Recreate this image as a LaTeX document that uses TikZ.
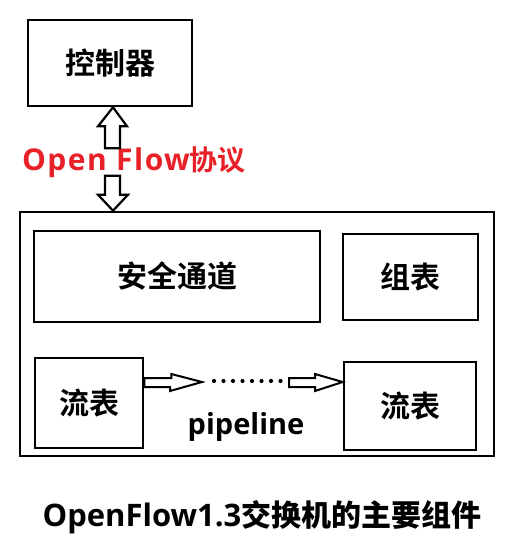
\documentclass[tikz,border=0pt]{standalone}
\usepackage{fontspec}
\setmainfont{Open Sans}[BoldFont={Open Sans Bold}]
\newfontfamily\cjk{Noto Sans CJK SC Bold}
\newfontfamily\widelat{Open Sans Bold}[LetterSpace=5]
\usetikzlibrary{calc}
\definecolor{ofred}{RGB}{232,32,40}
\tikzset{
  box/.style={draw, line width=2.6pt, inner sep=0pt},
  lbl/.style={font=\cjk\fontsize{30}{30}\selectfont},
  harrow/.style={draw, line width=2.2pt, fill=white, line join=miter},
  dot/.style={fill, circle, inner sep=0pt, minimum size=4.2pt},
}
\begin{document}
\begin{tikzpicture}[x=1pt,y=-1pt]
\useasboundingbox (0,0) rectangle (518,541);
% boxes
\node[box, minimum width=164pt, minimum height=86pt] (ctrl) at (110,63) {};
\node[lbl] at (ctrl.center) {控制器};
\node[box, minimum width=474pt, minimum height=244pt] (sw) at (257,334) {};
\node[box, minimum width=286pt, minimum height=91pt] (sec) at (177,276.5) {};
\node[lbl] at (sec.center) {安全通道};
\node[box, minimum width=135pt, minimum height=86pt] (grp) at (410.5,277) {};
\node[lbl] at (grp.center) {组表};
\node[box, minimum width=108pt, minimum height=90pt] (ft1) at (89,403) {};
\node[lbl] at (ft1.center) {流表};
\node[box, minimum width=132pt, minimum height=88pt] (ft2) at (410,406) {};
\node[lbl] at (ft2.center) {流表};
% protocol label
\node[text=ofred, inner sep=0pt] (proto) at (134,162) {\widelat\fontsize{30}{30}\selectfont Open Flow{\cjk\fontsize{28}{28}\selectfont 协议}};
% up arrow (controller <- protocol)
\draw[harrow] (ctrl.south -| 113,0) -- ++(14,19) -- ++(-7,0) -- ++(0,22) -- ++(-15,0) -- ++(0,-22) -- ++(-7,0) -- cycle;
% down arrow (protocol -> switch)
\draw[harrow] (sw.north -| 113,0) -- ++(15,-16) -- ++(-8,0) -- ++(0,-19) -- ++(-15,0) -- ++(0,19) -- ++(-7,0) -- cycle;
% pipeline
\coordinate (tip1) at (202,382);
\foreach \i in {0,...,7} \node[dot] (d\i) at (214+9.5*\i,381) {};
\draw[harrow, line width=2pt] (ft1.east |- 0,378) -- ++(27,0) -- ++(0,-4) -- (tip1) -- (170,391) -- (170,387) -- (ft1.east |- 0,387) -- cycle;
\draw[harrow, line width=2pt] (289,378) -- (315,378) -- (315,374) -- (ft2.west |- 0,382) -- (315,391) -- (315,387) -- (289,387) -- cycle;
\node[font=\bfseries\fontsize{29}{29}\selectfont] (pipe) at (246,427) {pipeline};
% caption
\node[inner sep=0pt] (cap) at (262,517) {\bfseries\fontsize{31}{31}\selectfont OpenFlow1.3{\cjk\fontsize{30}{30}\selectfont 交换机的主要组件}};
\end{tikzpicture}
\end{document}
